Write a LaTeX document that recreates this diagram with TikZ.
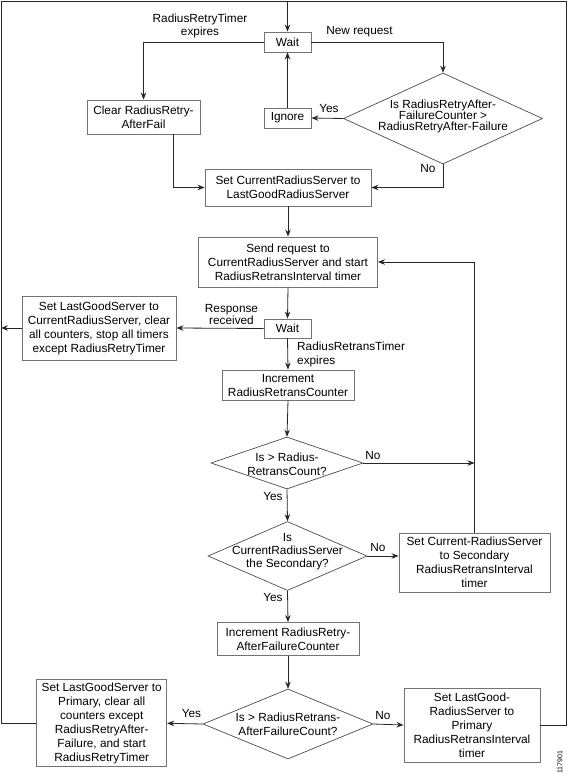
\documentclass[tikz,border=0pt]{standalone}
\usepackage{fontspec}
\setmainfont{Liberation Sans}
\usetikzlibrary{shapes.geometric,arrows.meta,calc}
\begin{document}
\begin{tikzpicture}[x=1bp,y=-1bp,
  every node/.style={font=\fontsize{11.8bp}{14bp}\selectfont, align=center},
  box/.style={draw=black!55, line width=0.9bp, inner sep=1bp},
  dia/.style={draw=black!70, line width=0.7bp, shape=diamond, inner sep=0pt},
  conn/.style={draw=black!85, line width=0.8bp},
  arr/.style={conn, -{Stealth[length=7bp,width=5.5bp]}},
  lab/.style={inner sep=0pt}]
\useasboundingbox (0,0) rectangle (568,778);

% nodes
\node[box,minimum width=47bp,minimum height=20bp] (wait1) at (287.5,42) {Wait};
\node[box,minimum width=113bp,minimum height=34bp] (clear) at (143.5,117) {Clear RadiusRetry-\\AfterFail};
\node[dia,minimum width=199bp,minimum height=91bp] (d1) at (443,118.5) {};
\node[lab,font=\fontsize{11.8bp}{11bp}\selectfont] (d1t) at (443,116) {Is RadiusRetryAfter-\\FailureCounter >\\RadiusRetryAfter-Failure};
\node[box,minimum width=47bp,minimum height=20bp] (ignore) at (287.5,118) {Ignore};
\node[box,minimum width=166bp,minimum height=37bp] (setcur) at (288,187.5) {Set CurrentRadiusServer to\\LastGoodRadiusServer};
\node[box,minimum width=179bp,minimum height=50bp] (send) at (288,262) {Send request to\\CurrentRadiusServer and start\\RadiusRetransInterval timer};
\node[box,minimum width=47bp,minimum height=19bp] (wait2) at (287.5,328.5) {Wait};
\node[box,minimum width=154bp,minimum height=64bp] (setlg1) at (99,328) {Set LastGoodServer to\\CurrentRadiusServer, clear\\all counters, stop all timers\\except RadiusRetryTimer};
\node[box,minimum width=132bp,minimum height=30bp] (inc1) at (288,385) {Increment\\RadiusRetransCounter};
\node[dia,minimum width=152bp,minimum height=52bp] (d2) at (287,463) {};
\node[lab] (d2t) at (287,464) {Is > Radius-\\RetransCount?};
\node[dia,minimum width=159bp,minimum height=69bp] (d3) at (287.5,556) {};
\node[lab,font=\fontsize{11.8bp}{13bp}\selectfont] (d3t) at (287.5,552) {Is\\CurrentRadiusServer\\the Secondary?};
\node[box,minimum width=151bp,minimum height=59bp] (setsec) at (474.5,562.5) {Set Current-RadiusServer\\to Secondary\\RadiusRetransInterval\\timer};
\node[box,minimum width=142bp,minimum height=33bp] (inc2) at (288,639) {Increment RadiusRetry-\\AfterFailureCounter};
\node[dia,minimum width=170bp,minimum height=70bp] (d4) at (288,724) {};
\node[lab] (d4t) at (288,724) {Is > RadiusRetrans-\\AfterFailureCount?};
\node[box,minimum width=130bp,minimum height=87bp] (lgprim) at (101.7,723.3) {Set LastGoodServer to\\Primary, clear all\\counters except\\RadiusRetryAfter-\\Failure, and start\\RadiusRetryTimer};
\node[box,minimum width=136bp,minimum height=74bp] (lgrad) at (472,725) {Set LastGood-\\RadiusServer to\\Primary\\RadiusRetransInterval\\timer};

% frame coordinates
\coordinate (tl) at (1,1);
\coordinate (tr) at (566.5,1);

% connectors
\draw[conn] (lgprim.west) -| (tl) -- (tr) |- (lgrad.east);
\draw[arr] (wait1.north |- tl) -- (wait1.north);
\draw[arr] (wait1.west) -| (clear.north);
\draw[arr] (wait1.east) -| (d1.north);
\draw[arr] (ignore.north) -- (wait1.south);
\draw[arr] (d1.west) -- (ignore.east);
\draw[arr] (d1.south) |- (setcur.east);
\draw[arr] ([xshift=30bp]clear.south) |- (setcur.west);
\draw[arr] (setcur.south) -- (send.north);
\draw[arr] (send.south) -- (wait2.north);
\draw[arr] (wait2.west) -- (setlg1.east);
\draw[arr] (setlg1.west) -- (setlg1.west -| tl);
\draw[arr] (wait2.south) -- (inc1.north);
\draw[arr] (inc1.south) -- (d2.north);
\draw[arr] (d2.east) -- (d2.east -| setsec.north);
\draw[arr] (setsec.north) |- (send.east);
\draw[arr] (d2.south) -- (d3.north);
\draw[arr] (d3.east) -- (d3.east -| setsec.west);
\draw[arr] (d3.south) -- (inc2.north);
\draw[arr] (inc2.south) -- (d4.north);
\draw[arr] (d4.west) -- (lgprim.east);
\draw[arr] (d4.east) -- (lgrad.west);

% labels
\node[lab,font=\fontsize{11.8bp}{13bp}\selectfont] (l1) at (200,26) {RadiusRetryTimer\\expires};
\node[lab] (l2) at (359.5,32) {New request};
\node[lab] (l3) at (329,108) {Yes};
\node[lab] (l4) at (428,168) {No};
\node[lab,font=\fontsize{11.8bp}{12bp}\selectfont] (l5) at (231.5,314) {Response\\received};
\node[lab,anchor=west,align=left] (l6) at (297,354) {RadiusRetransTimer\\expires};
\node[lab] (l7) at (373,455) {No};
\node[lab] (l8) at (273,496) {Yes};
\node[lab] (l9) at (378,547) {No};
\node[lab] (l10) at (273,597) {Yes};
\node[lab] (l11) at (191.5,713) {Yes};
\node[lab] (l12) at (383,715) {No};
\node[lab,rotate=90,font=\fontsize{7bp}{8bp}\selectfont] (fid) at (560,762) {117901};
\end{tikzpicture}
\end{document}
